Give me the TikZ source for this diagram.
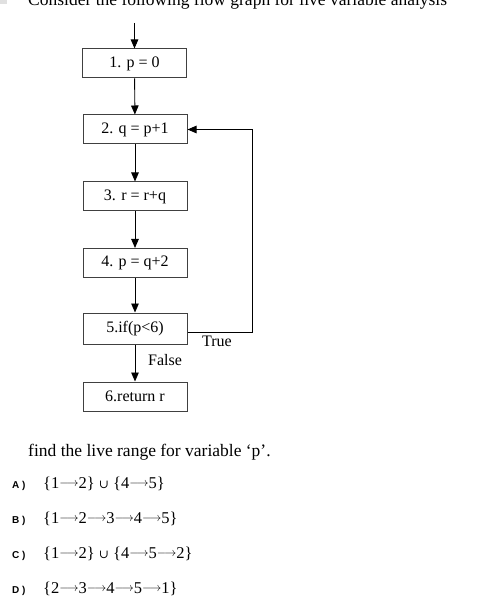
\documentclass[tikz,border=0pt]{standalone}
\usepackage{fontspec}
\setmainfont{Liberation Serif}
\newfontfamily\optf{Liberation Sans}
\newfontfamily\symf{DejaVu Serif}
\usetikzlibrary{arrows.meta}
\tikzset{
  box/.style={draw=black!75, line width=1pt, minimum width=104pt, minimum height=29pt, inner sep=0pt, font=\fontsize{16}{18}\selectfont},
  arr/.style={line width=0.9pt, -{Triangle[length=9pt,width=7.5pt]}},
  lbl/.style={font=\fontsize{16}{18}\selectfont, inner sep=0pt},
  txt/.style={font=\fontsize{17.5}{20}\selectfont, inner sep=0pt, anchor=base west},
  optl/.style={font=\optf\bfseries\fontsize{10}{12}\selectfont, inner sep=0pt, anchor=base west},
  optt/.style={font=\fontsize{16.5}{20}\selectfont, inner sep=0pt, anchor=base west}
}
\newcommand{\cupsym}{{\symf\fontsize{12}{14}\selectfont ∪}}
\newcommand{\toar}{\raisebox{1.8pt}{\fontsize{11.5}{14}\selectfont$\longrightarrow$}}
\begin{document}
\begin{tikzpicture}[x=1pt,y=-1pt]
\clip (0,0) rectangle (481,601);
\fill[white] (0,0) rectangle (481,601);
\fill[black!12] (0,0) rectangle (7,4);
\node[txt] (title) at (28,6) {Consider the following flow graph for live variable analysis};
\coordinate (start) at (134.5,23);
\node[box] (b1) at (134.5,63.5) {1. p = 0};
\node[box] (b2) at (135,129.5) {2. q = p+1};
\node[box] (b3) at (135,196.5) {3. r = r+q};
\node[box] (b4) at (135,263) {4. p = q+2};
\node[box, minimum height=31pt] (b5) at (135,328.5) {5.if(p<6)};
\node[box] (b6) at (135,396.5) {6.return r};
\draw[arr] (start) -- (b1);
\draw[arr] (b1) -- (b2);
\draw[arr] (b2) -- (b3);
\draw[arr] (b3) -- (b4);
\draw[arr] (b4) -- (b5);
\draw[arr] (b5) -- (b6);
\coordinate (fb) at (252,129.5);
\draw[arr] ([yshift=-3.5pt]b5.east) -| (fb) -- (b2.east);
\node[lbl] (tl) at (217,341) {True};
\node[lbl] (fl) at (165,360) {False};
\node[txt] (q) at (28,456) {find the live range for variable ‘p’.};
\node[optl] (la) at (12,488) {A )};
\node[optl] (lb) at (12,523) {B )};
\node[optl] (lc) at (12,558) {C )};
\node[optl] (ld) at (12,593) {D )};
\node[optt] (oa) at (43,488) {\{1\toar2\} \cupsym\ \{4\toar5\}};
\node[optt] (ob) at (43,523) {\{1\toar2\toar3\toar4\toar5\}};
\node[optt] (oc) at (43,558) {\{1\toar2\} \cupsym\ \{4\toar5\toar2\}};
\node[optt] (od) at (43,593) {\{2\toar3\toar4\toar5\toar1\}};
\end{tikzpicture}
\end{document}
